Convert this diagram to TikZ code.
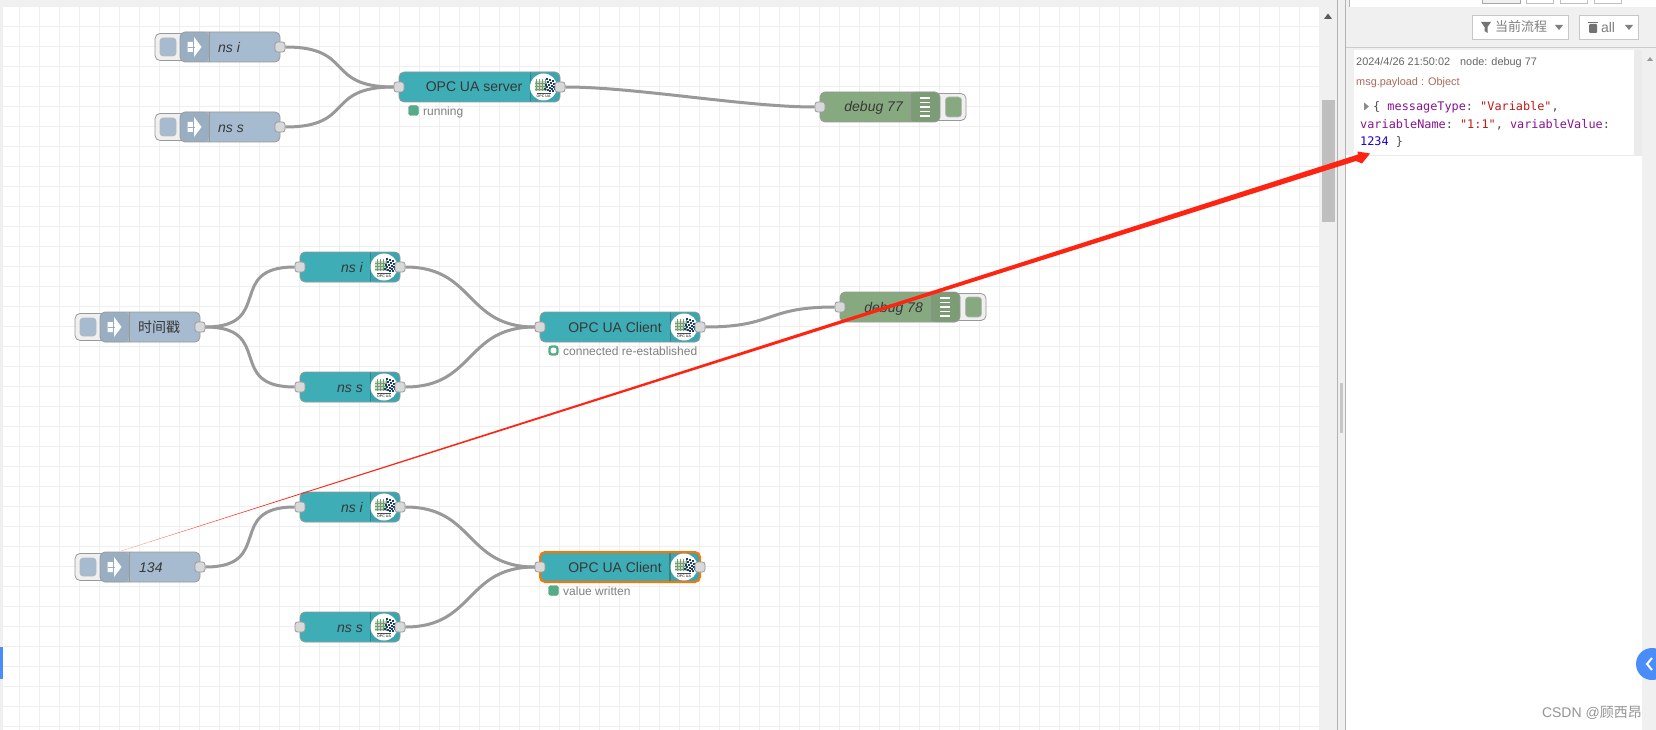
\documentclass[tikz,border=0pt]{standalone}
\usepackage{fontspec}
\setmainfont{Liberation Sans}
\setmonofont{DejaVu Sans Mono}
\newfontfamily\cjk{Noto Sans CJK SC}
\definecolor{gridline}{HTML}{EFEFEF}
\definecolor{chrome}{HTML}{F0F0F0}
\definecolor{injectfill}{HTML}{A6BBCF}
\definecolor{injecthead}{HTML}{9AAEC2}
\definecolor{opcfill}{HTML}{3FADB5}
\definecolor{opchead}{HTML}{3CA6AE}
\definecolor{debugfill}{HTML}{87A980}
\definecolor{debughead}{HTML}{7C9C76}
\definecolor{portfill}{HTML}{D9D9D9}
\definecolor{wirecol}{HTML}{999999}
\definecolor{statuscol}{HTML}{55AA88}
\definecolor{arrowred}{HTML}{FF2412}
\definecolor{msgkey}{HTML}{881391}
\definecolor{msgstr}{HTML}{C41A16}
\definecolor{msgnum}{HTML}{1C00CF}
\definecolor{msghead}{HTML}{AA6A5A}
\definecolor{tabblue}{HTML}{4A8DF8}
\definecolor{iconlight}{HTML}{C9D9C2}
\definecolor{icondark}{HTML}{1F3F6B}
\tikzset{
  nodebody/.style={draw=wirecol, line width=.8pt, rounded corners=5pt, minimum height=30pt, inner sep=0pt},
  injectbody/.style={nodebody, fill=injectfill, minimum width=100pt, path picture={
    \fill[injecthead] (path picture bounding box.north west) rectangle ([xshift=29pt]path picture bounding box.south west);
    \draw[wirecol] ([xshift=29pt]path picture bounding box.north west) -- ([xshift=29pt]path picture bounding box.south west);}},
  opcbody/.style={nodebody, fill=opcfill, path picture={
    \fill[opchead] (path picture bounding box.north east) rectangle ([xshift=-30pt]path picture bounding box.south east);
    \draw[opchead!80!black] ([xshift=-30pt]path picture bounding box.north east) -- ([xshift=-30pt]path picture bounding box.south east);}},
  debugbody/.style={nodebody, fill=debugfill, minimum width=120pt, path picture={
    \fill[debughead] (path picture bounding box.north east) rectangle ([xshift=-30pt]path picture bounding box.south east);
    \draw[wirecol] ([xshift=-30pt]path picture bounding box.north east) -- ([xshift=-30pt]path picture bounding box.south east);}},
  outerbutton/.style={draw=wirecol, fill=chrome, line width=.8pt, rounded corners=5pt, minimum width=34pt, minimum height=27pt, inner sep=0pt},
  innerbutton/.style={draw=wirecol!70, line width=.6pt, rounded corners=3pt, minimum width=16pt, minimum height=18pt, inner sep=0pt},
  portbox/.style={draw=wirecol, fill=portfill, line width=.8pt, rounded corners=2.5pt, minimum size=10pt, inner sep=0pt},
  wire/.style={draw=wirecol, line width=3pt},
  nodelabel/.style={font=\fontsize{14}{16}\selectfont, text=black!78, inner sep=0pt, text height=10pt, text depth=0pt},
  statusdot/.style={draw=statuscol, fill=statuscol, rounded corners=2.5pt, minimum size=10pt, inner sep=0pt},
  statushollow/.style={statusdot, fill=white, line width=2.4pt, minimum size=8pt},
  statuslabel/.style={font=\fontsize{12}{14}\selectfont, text=black!50, inner sep=0pt, anchor=west, text height=8.6pt, text depth=0pt},
  panelbutton/.style={draw=black!22, fill=white, line width=.8pt},
  msgline/.style={font=\ttfamily\fontsize{11.85}{14}\selectfont, inner sep=0pt, anchor=west},
  infotext/.style={font=\fontsize{10.9}{14}\selectfont, inner sep=0pt, anchor=west},
}
% inject node: name, x, y
\newcommand{\injectparts}[3]{
  \node[outerbutton] (#1-button) at (#2-8,#3) {};
  \node[innerbutton, fill=injectfill] (#1-press) at (#2-12,#3) {};
  \node[injectbody] (#1) at (#2+50,#3) {};
  \fill[white] (#2+7.5,#3-5) -- (#2+14,#3-5) -- (#2+14,#3-10) -- (#2+21.5,#3) -- (#2+14,#3+10) -- (#2+14,#3+5) -- (#2+7.5,#3+5) -- cycle;
  \draw[injecthead, line width=.9pt] (#2+7.5,#3) -- (#2+15,#3) (#2+13,#3-9) -- (#2+13,#3+9);
  \node[portbox] (#1-out) at (#2+100,#3) {};
}
% debug node: name, x, y
\newcommand{\debugparts}[3]{
  \node[outerbutton] (#1-button) at (#2+129,#3) {};
  \node[innerbutton, fill=debugfill, minimum height=20pt] (#1-press) at (#2+133.5,#3) {};
  \node[debugbody] (#1) at (#2+60,#3) {};
  \foreach \liney in {-9,-4.5,0,4.5,9}
    \draw[white, line width=1.7pt] (#2+100,#3+\liney) -- (#2+110,#3+\liney);
  \node[portbox] (#1-in) at (#2,#3) {};
}
% round opc ua badge: x, y
\newcommand{\opcicon}[2]{
  \begin{scope}[shift={(#1,#2)}]
    \fill[white] (0,0) circle (13.5);
    \fill[iconlight] (-9,-6) rectangle (3,4);
    \foreach \gx in {-7,-4,-1,2}
      \draw[green!30!black!55, line width=.4pt] (\gx,-8) -- (\gx,4);
    \foreach \gy in {-4,-1,2}
      \draw[green!30!black!55, line width=.4pt] (-9,\gy) -- (3,\gy);
    \foreach \sx/\sy in {2/-9,5/-8,8/-7,3/-6,6/-5,9/-4,1/-3,4/-3,7/-2,2/-1,5/0,9/-1,3/2,7/1,10/1,5/3,8/3,0/1}
      \fill[icondark] (\sx,\sy) rectangle ++(2.4,2.4);
    \draw[black!70, line width=.5pt] (-7,6.5) -- (7,6.5);
    \node[inner sep=0pt, font=\fontsize{3.6}{4}\selectfont] (badgetext) at (0,9.5) {OPC UA};
  \end{scope}
}
\begin{document}
\begin{tikzpicture}[x=1pt, y=-1pt]
  \useasboundingbox (0,0) rectangle (1656,730);
  \fill[chrome] (0,0) rectangle (1656,730);
  \fill[white] (3,7) rectangle (1319,730);
  % grid of the flow canvas
  \foreach \gridx in {19,39,...,1319}
    \draw[gridline, line width=1pt] (\gridx,7) -- (\gridx,730);
  \foreach \gridy in {26.5,46.5,...,730}
    \draw[gridline, line width=1pt] (3,\gridy) -- (1319,\gridy);
  \fill[tabblue] (0,647) rectangle (3,679);
  \fill[black!25] (1322,100) rectangle (1335,222);
  \fill[black!65] (1324,19) -- (1328,13.5) -- (1332,19) -- cycle;
  % side panel
  \fill[white] (1346,155) rectangle (1642,730);
  \fill[white] (1354,50) rectangle (1634,155);
  \fill[black!8] (1634,50) rectangle (1642,155);
  \draw[black!8] (1354,155.5) -- (1642,155.5);
  \draw[black!30, line width=.8pt] (1337.5,0) -- (1337.5,730) (1345.5,0) -- (1345.5,730);
  \fill[black!22] (1340,383) rectangle (1343,433);
  \draw[black!20, line width=1pt] (1346,48) -- (1656,48);
  \fill[white] (1349,0) rectangle (1656,7);
  \draw[black!30] (1349,0) -- (1349,7);
  \draw[black!35, fill=chrome, line width=.8pt] (1482,-1) rectangle (1520,3);
  \draw[black!25, line width=.8pt] (1526,-1) rectangle (1553,3) (1560,-1) rectangle (1587,3) (1594,-1) rectangle (1621,3);
  \node[panelbutton, minimum width=96pt, minimum height=24pt, inner sep=0pt] (flowfilter) at (1520,27.5) {};
  \node[panelbutton, minimum width=59pt, minimum height=24pt, inner sep=0pt] (clearall) at (1608.5,27.5) {};
  \node[inner sep=0pt, text=black!50, font=\cjk\fontsize{13}{15}\selectfont] (flowtext) at (1521,27) {当前流程};
  \node[inner sep=0pt, text=black!50, font=\fontsize{14}{16}\selectfont] (alltext) at (1608,27.5) {all};
  \fill[black!55] (1481,22) -- (1491,22) -- (1487.5,27) -- (1487.5,33) -- (1484.5,31) -- (1484.5,27) -- cycle;
  \fill[black!50] (1555,25) -- (1563,25) -- (1559,30) -- cycle;
  \fill[black!50] (1625,25) -- (1633,25) -- (1629,30) -- cycle;
  \fill[black!55, rounded corners=1pt] (1589,24) rectangle (1597,33);
  \fill[black!55] (1588,22) rectangle (1598,23.5);
  \fill[black!40] (1647,61) -- (1650,57) -- (1653,61) -- cycle;
  % debug message
  \node[infotext, text=black!60] (msgtime) at (1356,62.5) {2024/4/26 21:50:02\hspace{10pt}node: debug 77};
  \node[infotext, text=msghead] (msgtopic) at (1356,82.5) {msg.payload : Object};
  \fill[black!45] (1364,102.5) -- (1369,106.5) -- (1364,110.5) -- cycle;
  \node[msgline] (msgone) at (1373,107.5) {\textcolor{black!70}{\{} \textcolor{msgkey}{messageType}\textcolor{black!70}{:} \textcolor{msgstr}{"Variable"}\textcolor{black!70}{,}};
  \node[msgline] (msgtwo) at (1360,124.5) {\textcolor{msgkey}{variableName}\textcolor{black!70}{:} \textcolor{msgstr}{"1:1"}\textcolor{black!70}{,} \textcolor{msgkey}{variableValue}\textcolor{black!70}{:}};
  \node[msgline] (msgthree) at (1360,141.5) {\textcolor{msgnum}{1234} \textcolor{black!70}{\}}};
  % first flow
  \injectparts{nsiinject}{180}{47}
  \injectparts{nssinject}{180}{127}
  \node[opcbody, minimum width=161pt] (server) at (479.5,87) {};
  \opcicon{543.5}{87}
  \node[portbox] (server-in) at (399,87) {};
  \node[portbox] (server-out) at (560,87) {};
  \debugparts{debugone}{820}{107}
  \node[nodelabel, font=\itshape\fontsize{14}{16}\selectfont, anchor=west] (nsitext) at (218,47.5) {ns i};
  \node[nodelabel, font=\itshape\fontsize{14}{16}\selectfont, anchor=west] (nsstext) at (218,127.5) {ns s};
  \node[nodelabel] (servertext) at (474,87) {OPC UA server};
  \node[nodelabel, font=\itshape\fontsize{14}{16}\selectfont, anchor=east] (debugonetext) at (903,107) {debug 77};
  \node[statusdot] (serverdot) at (413.5,110.5) {};
  \node[statuslabel] (serverstatus) at (423,111) {running};
  \draw[wire] (nsiinject-out) .. controls +(75,0) and +(-75,0) .. (server-in);
  \draw[wire] (nssinject-out) .. controls +(75,0) and +(-75,0) .. (server-in);
  \draw[wire] (server-out) .. controls +(75,0) and +(-75,0) .. (debugone-in);
  % second flow
  \injectparts{timeinject}{100}{327}
  \node[opcbody, minimum width=100pt] (readi) at (350,267) {};
  \opcicon{384}{267}
  \node[portbox] (readi-in) at (300,267) {};
  \node[portbox] (readi-out) at (400,267) {};
  \node[opcbody, minimum width=100pt] (reads) at (350,387) {};
  \opcicon{384}{387}
  \node[portbox] (reads-in) at (300,387) {};
  \node[portbox] (reads-out) at (400,387) {};
  \node[opcbody, minimum width=160pt] (clientread) at (620,327) {};
  \opcicon{684}{327}
  \node[portbox] (clientread-in) at (540,327) {};
  \node[portbox] (clientread-out) at (700,327) {};
  \debugparts{debugtwo}{840}{307}
  \node[nodelabel, font=\cjk\fontsize{14}{16}\selectfont, anchor=west] (timetext) at (138,327) {时间戳};
  \node[nodelabel, font=\itshape\fontsize{14}{16}\selectfont, anchor=east] (readitext) at (363,267) {ns i};
  \node[nodelabel, font=\itshape\fontsize{14}{16}\selectfont, anchor=east] (readstext) at (363,387) {ns s};
  \node[nodelabel] (clientreadtext) at (615,327) {OPC UA Client};
  \node[nodelabel, font=\itshape\fontsize{14}{16}\selectfont, anchor=east] (debugtwotext) at (923,307) {debug 78};
  \node[statushollow] (clientreaddot) at (553.5,350.5) {};
  \node[statuslabel] (clientreadstatus) at (563,351) {connected re-established};
  \draw[wire] (timeinject-out) .. controls +(75,0) and +(-75,0) .. (readi-in);
  \draw[wire] (timeinject-out) .. controls +(75,0) and +(-75,0) .. (reads-in);
  \draw[wire] (readi-out) .. controls +(75,0) and +(-75,0) .. (clientread-in);
  \draw[wire] (reads-out) .. controls +(75,0) and +(-75,0) .. (clientread-in);
  \draw[wire] (clientread-out) .. controls +(75,0) and +(-75,0) .. (debugtwo-in);
  % third flow
  \injectparts{valueinject}{100}{567}
  \node[opcbody, minimum width=100pt] (writei) at (350,507) {};
  \opcicon{384}{507}
  \node[portbox] (writei-in) at (300,507) {};
  \node[portbox] (writei-out) at (400,507) {};
  \node[opcbody, minimum width=100pt] (writes) at (350,627) {};
  \opcicon{384}{627}
  \node[portbox] (writes-in) at (300,627) {};
  \node[portbox] (writes-out) at (400,627) {};
  \node[opcbody, minimum width=160pt, draw=orange!90!red, line width=2pt] (clientwrite) at (620,567) {};
  \opcicon{684}{567}
  \node[portbox] (clientwrite-in) at (540,567) {};
  \node[portbox] (clientwrite-out) at (700,567) {};
  \node[nodelabel, font=\itshape\fontsize{14}{16}\selectfont, anchor=west] (valuetext) at (139,567) {134};
  \node[nodelabel, font=\itshape\fontsize{14}{16}\selectfont, anchor=east] (writeitext) at (363,507) {ns i};
  \node[nodelabel, font=\itshape\fontsize{14}{16}\selectfont, anchor=east] (writestext) at (363,627) {ns s};
  \node[nodelabel] (clientwritetext) at (615,567) {OPC UA Client};
  \node[statusdot] (clientwritedot) at (553.5,590.5) {};
  \node[statuslabel] (clientwritestatus) at (563,591) {value written};
  \draw[wire] (valueinject-out) .. controls +(75,0) and +(-75,0) .. (writei-in);
  \draw[wire] (writei-out) .. controls +(75,0) and +(-75,0) .. (clientwrite-in);
  \draw[wire] (writes-out) .. controls +(75,0) and +(-75,0) .. (clientwrite-in);
  % hand drawn red arrow
  \coordinate (arrowstart) at (121,551);
  \coordinate (arrowtip) at (1370,153.5);
  \fill[arrowred] (arrowstart) -- (1356,161) -- (1362,163.5) -- (arrowtip) -- (1357.5,151.5) -- (1358,154.5) -- cycle;
  % tab and watermark
  \fill[tabblue] (1652,664) circle (16);
  \draw[white, line width=2pt] (1652,658) -- (1647,664) -- (1652,670);
  \node[inner sep=0pt, anchor=east, text=black!42, font=\fontsize{14}{16}\selectfont] (watermark) at (1642,713) {CSDN @{\cjk 顾西昂}};
\end{tikzpicture}
\end{document}
